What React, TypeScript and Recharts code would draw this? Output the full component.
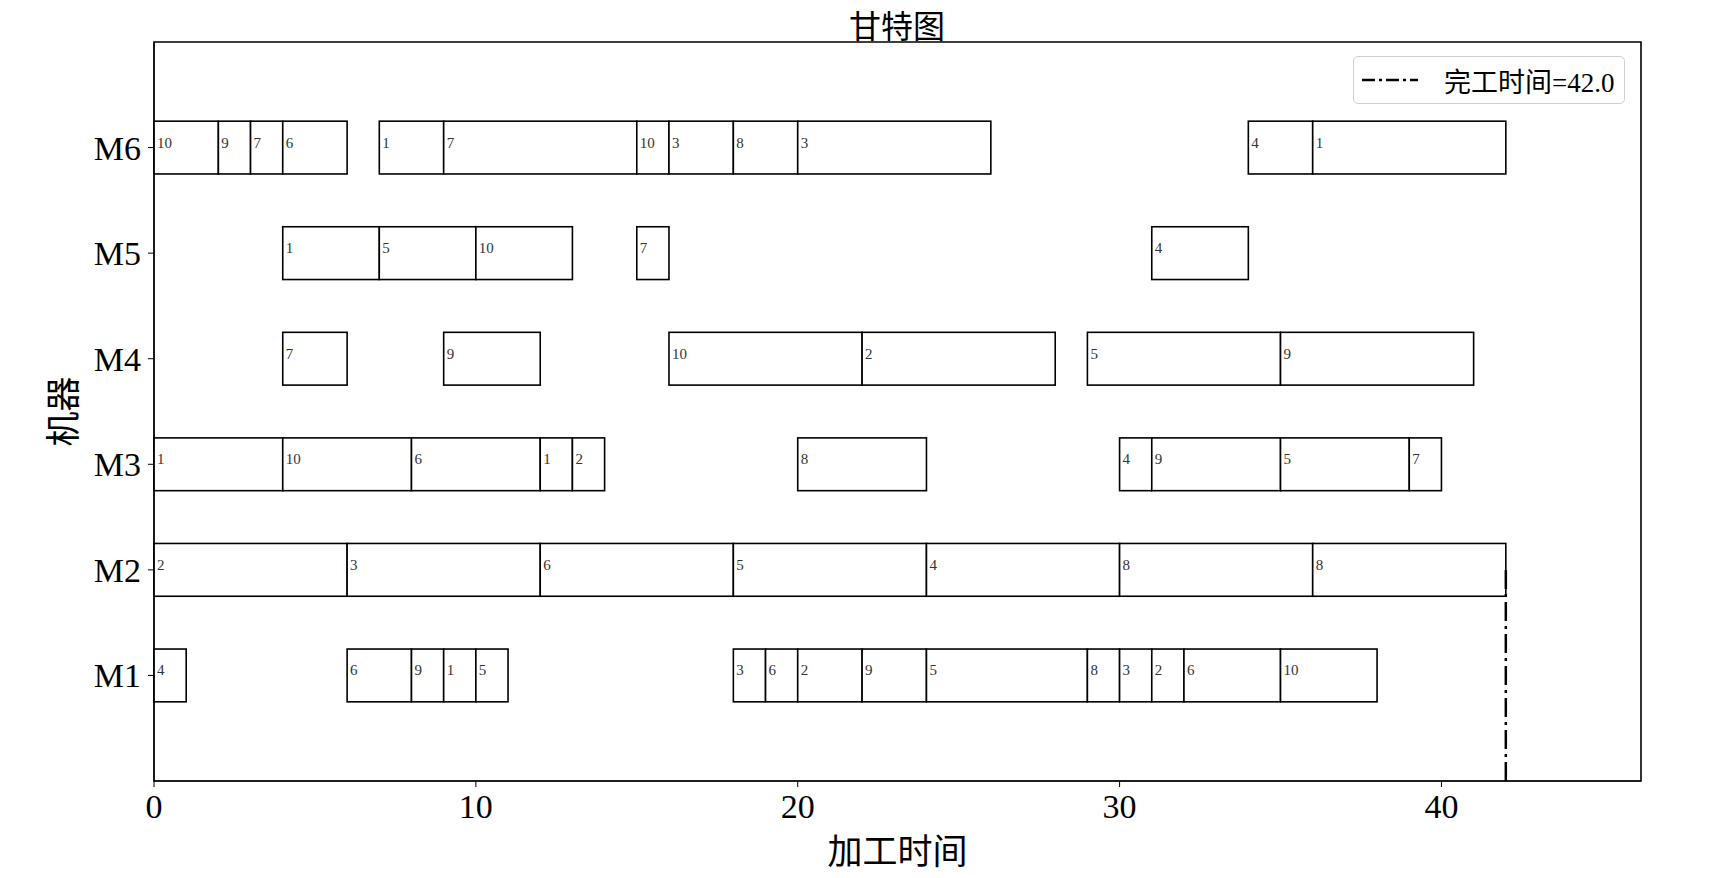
import { ComposedChart, XAxis, YAxis, ReferenceArea, ReferenceLine } from 'recharts';

// 机器名称 & 每台机器上的工序: [开始, 结束, 工件号]
const machineNames = ['M1', 'M2', 'M3', 'M4', 'M5', 'M6'];
const xTicks = [0, 10, 20, 30, 40];
const yTicks = [1, 2, 3, 4, 5, 6];
const makespan = 42.0;

const m1Tasks = [
  [0, 1, 4], [6, 8, 6], [8, 9, 9], [9, 10, 1], [10, 11, 5],
  [18, 19, 3], [19, 20, 6], [20, 22, 2], [22, 24, 9], [24, 29, 5],
  [29, 30, 8], [30, 31, 3], [31, 32, 2], [32, 35, 6], [35, 38, 10],
];
const m2Tasks = [
  [0, 6, 2], [6, 12, 3], [12, 18, 6], [18, 24, 5], [24, 30, 4], [30, 36, 8], [36, 42, 8],
];
const m3Tasks = [
  [0, 4, 1], [4, 8, 10], [8, 12, 6], [12, 13, 1], [13, 14, 2],
  [20, 24, 8], [30, 31, 4], [31, 35, 9], [35, 39, 5], [39, 40, 7],
];
const m4Tasks = [
  [4, 6, 7], [9, 12, 9], [16, 22, 10], [22, 28, 2], [29, 35, 5], [35, 41, 9],
];
const m5Tasks = [
  [4, 7, 1], [7, 10, 5], [10, 13, 10], [15, 16, 7], [31, 34, 4],
];
const m6Tasks = [
  [0, 2, 10], [2, 3, 9], [3, 4, 7], [4, 6, 6], [7, 9, 1], [9, 15, 7],
  [15, 16, 10], [16, 18, 3], [18, 20, 8], [20, 26, 3], [34, 36, 4], [36, 42, 1],
];

const allTasks = [m1Tasks, m2Tasks, m3Tasks, m4Tasks, m5Tasks, m6Tasks];

const SERIF = "'Liberation Serif', 'Times New Roman', serif";
const CJK = "'Noto Sans CJK SC', sans-serif";
const DASH_DOT = '19 5 3 5';

const TaskBox = (props: any) => {
  const { x, y, width, height, job } = props;
  return (
    <g>
      <rect x={x} y={y} width={width} height={height} fill="#fff" stroke="#000" strokeWidth={1.6} />
      <text x={x + 3} y={y + height / 2} fontSize={15} fontFamily={SERIF} fill="#333">
        {job}
      </text>
    </g>
  );
};

export default function App() {
  return (
    <div style={{ position: 'absolute', left: 0, top: 0, width: 1731, height: 878, background: '#fff' }}>
      <ComposedChart width={1731} height={878} margin={{ top: 42, right: 90, bottom: 37, left: 0 }}>
        <text x={897} y={37.5} textAnchor="middle" fontSize={32} fontFamily={CJK} fill="#000">
          甘特图
        </text>
        <XAxis
          type="number"
          dataKey="x"
          domain={[0, 46.2]}
          ticks={xTicks}
          allowDataOverflow
          height={60}
          tickSize={6}
          tickMargin={7}
          stroke="#000"
          tick={{ fontSize: 34, fontFamily: SERIF, fill: '#000' }}
          label={{
            content: ({ viewBox }: any) => (
              <text
                x={viewBox.x + viewBox.width / 2}
                y={848}
                textAnchor="middle"
                dominantBaseline="central"
                fontSize={35}
                fontFamily={CJK}
                fill="#000"
              >
                加工时间
              </text>
            ),
          }}
        />
        <YAxis
          type="number"
          dataKey="y"
          domain={[0, 7]}
          ticks={yTicks}
          allowDataOverflow
          width={154}
          tickSize={6}
          tickMargin={7}
          stroke="#000"
          tick={{ fontSize: 34, fontFamily: SERIF, fill: '#000' }}
          tickFormatter={(v: number) => machineNames[v - 1]}
          label={{
            content: ({ viewBox }: any) => (
              <text
                x={60}
                y={viewBox.y + viewBox.height / 2}
                textAnchor="middle"
                dominantBaseline="central"
                fontSize={35}
                fontFamily={CJK}
                fill="#000"
                transform={`rotate(-90, 60, ${viewBox.y + viewBox.height / 2})`}
              >
                机器
              </text>
            ),
          }}
        />
        {/* 坐标框 */}
        <ReferenceArea x1={0} x2={46.2} y1={0} y2={7} fill="none" stroke="#000" strokeWidth={1.6} />
        {allTasks.map((tasks, mi) =>
          tasks.map(([s, e, job], ti) => (
            <ReferenceArea
              key={`${mi}-${ti}`}
              x1={s}
              x2={e}
              y1={mi + 1 - 0.25}
              y2={mi + 1 + 0.25}
              shape={(p: any) => <TaskBox {...p} job={job} />}
            />
          )),
        )}
        <ReferenceLine
          segment={[{ x: makespan, y: 0 }, { x: makespan, y: 2 }]}
          stroke="#000"
          strokeWidth={2.5}
          strokeDasharray={DASH_DOT}
        />
      </ComposedChart>
      <div
        style={{
          position: 'absolute', left: 1353, top: 56, width: 272, height: 48,
          border: '1px solid #d0d0d0', borderRadius: 5, background: 'rgba(255,255,255,0.8)',
          display: 'flex', alignItems: 'center', boxSizing: 'border-box',
        }}
      >
        <svg width={70} height={20} style={{ marginLeft: 8 }}>
          <line x1={0} y1={10} x2={56} y2={10} stroke="#000" strokeWidth={2.5} strokeDasharray="13 4 3 4" />
        </svg>
        <span style={{ marginLeft: 12, fontSize: 27, fontFamily: `${SERIF}, ${CJK}`, color: '#000', whiteSpace: 'nowrap' }}>
          完工时间={makespan.toFixed(1)}
        </span>
      </div>
    </div>
  );
}
